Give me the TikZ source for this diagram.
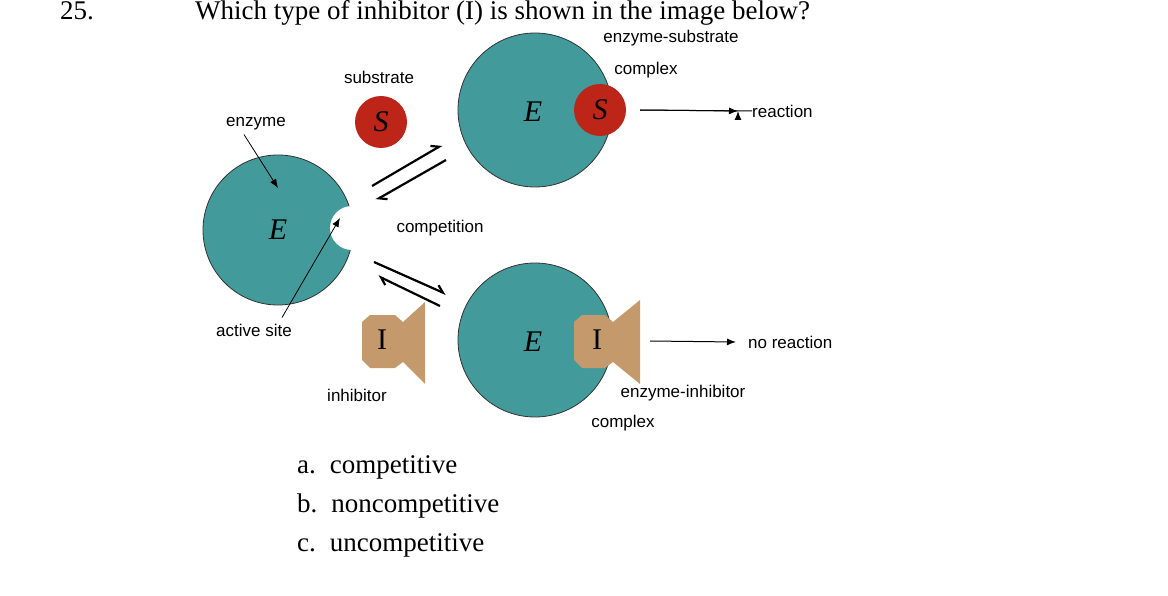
\documentclass[tikz,border=0pt]{standalone}
\usepackage{fontspec}
\setmainfont{Liberation Serif}
\newfontfamily\lbl{Liberation Sans}
\usetikzlibrary{arrows.meta}
\definecolor{teal1}{HTML}{429A9A}
\definecolor{sred}{HTML}{BE2519}
\definecolor{itan}{HTML}{C49A6C}
\begin{document}
\begin{tikzpicture}[x=1pt,y=-1pt,
  enz/.style={fill=teal1,draw=black!80,line width=0.8pt},
  lab/.style={font=\lbl\fontsize{17}{19}\selectfont,inner sep=0pt},
  hdr/.style={font=\fontsize{27}{30}\selectfont,inner sep=0pt,anchor=base west},
  sub/.style={circle,fill=sred,minimum size=52pt,inner sep=0pt,font=\fontsize{30}{30}\selectfont\itshape},
  harp/.style={line width=2.2pt,-{Straight Barb[left,length=7pt,width=10pt]}},
  ptr/.style={line width=0.8pt,-{Latex[length=9pt,width=7pt]}}]
\useasboundingbox (0,0) rectangle (1168,596);
% header
\node[hdr] (n25) at (60,20) {25.};
\node[hdr] (q) at (195,20) {Which type of inhibitor (I) is shown in the image below?};
% left enzyme
\fill[enz] (278,230) circle (75);
\fill[white] (352,228) circle (22);
\fill[white] (352,205) rectangle (362,251);
\node[font=\fontsize{30}{30}\selectfont\itshape] (e1) at (278,230) {E};
% substrate
\node[sub] (s1) at (381,122) {S};
% free inhibitor
\fill[itan] (362,322) -- (370,315) -- (395,315) -- (403,322) -- (425,302) -- (425,384) -- (403,362) -- (395,368) -- (370,368) -- (362,360) -- cycle;
\node[font=\fontsize{30}{30}\selectfont] (i1) at (382,340) {I};
% top ES
\fill[enz] (535,110) circle (77);
\node[sub] (s2) at (600,110) {S};
\node[font=\fontsize{30}{30}\selectfont\itshape] (e2) at (533,112) {E};
% bottom EI
\fill[enz] (535,340) circle (77);
\fill[itan] (574,322) -- (582,315) -- (605,315) -- (613,322) -- (640,300) -- (640,384) -- (613,362) -- (605,368) -- (582,368) -- (574,360) -- cycle;
\node[font=\fontsize{30}{30}\selectfont\itshape] (e3) at (533,342) {E};
\node[font=\fontsize{30}{30}\selectfont] (i2) at (597,340) {I};
% equilibrium arrows
\coordinate (t1a) at (372,186); \coordinate (t1b) at (442,145);
\coordinate (t2a) at (446,160); \coordinate (t2b) at (376,200);
\draw[harp] (t1a) -- (t1b);
\draw[harp] (t2a) -- (t2b);
\coordinate (b1a) at (374,262); \coordinate (b1b) at (446,294);
\coordinate (b2a) at (440,306); \coordinate (b2b) at (378,276);
\draw[harp] (b1a) -- (b1b);
\draw[harp] (b2a) -- (b2b);
% labels
\node[lab] (lsub) at (379,77) {substrate};
\node[lab] (lenz) at (256,124) {enzyme};
\node[lab] (lcomp) at (440,228) {competition};
\node[lab] (lact) at (254,330) {active site};
\node[lab] (linh) at (357,395) {inhibitor};
\node[lab] (les1) at (671,38) {enzyme-substrate};
\node[lab] (les2) at (646,70) {complex};
\node[lab] (lei1) at (683,393) {enzyme-inhibitor};
\node[lab] (lei2) at (623,423) {complex};
\node[lab,anchor=west] (lr) at (752,111) {reaction};
\node[lab,anchor=west] (lnr) at (748,342) {no reaction};
\draw[ptr] (lenz.south) ++(-12,4) -- (278,188);
\draw[ptr] (lact.north) ++(28,-6) -- (340,218);
\draw[ptr,line width=1pt] (640,110) -- (lr.west) ++(-14,0);
\draw[ptr,line width=1pt] (650,341) -- ([xshift=-12pt]lnr.west);
\draw[ptr,line width=1pt] (640,110) -- ([xshift=-14pt]lr.west);
% answers
\node[hdr] (a) at (297,473) {a.\hspace{14pt}competitive};
\node[hdr] (b) at (297,512) {b.\hspace{14pt}noncompetitive};
\node[hdr] (c) at (297,551) {c.\hspace{14pt}uncompetitive};
\end{tikzpicture}
\end{document}
